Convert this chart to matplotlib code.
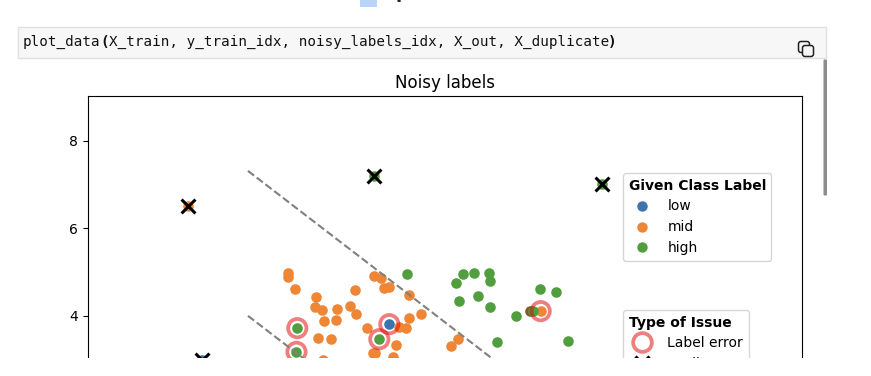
import matplotlib
matplotlib.use("Agg")
import matplotlib.pyplot as plt
from matplotlib.lines import Line2D
from matplotlib.patches import FancyBboxPatch, Rectangle

# values
mid_x = [2.805, 2.805, 2.903, 3.189, 3.175, 3.282, 3.492, 3.310, 3.469, 3.744, 3.674, 3.758,
         3.912, 3.217, 3.408, 4.006, 4.099, 4.150, 4.220, 4.500, 4.668, 4.500, 4.360, 4.458,
         4.318, 3.987, 4.024, 4.276, 3.296, 5.178, 5.088, 6.340, 1.40]
mid_y = [4.976, 4.898, 4.610, 4.427, 4.199, 4.130, 4.153, 3.879, 3.902, 4.587, 4.222, 4.039,
         3.719, 3.490, 3.467, 4.907, 4.862, 4.633, 4.656, 4.473, 4.039, 3.947, 3.755, 3.719,
         3.330, 3.147, 3.161, 3.063, 2.994, 3.467, 3.307, 4.107, 6.50]
high_x = [4.472, 5.256, 5.410, 5.620, 5.634, 5.158, 5.200, 5.466, 5.634, 5.999, 6.335, 6.559,
          6.237, 5.733, 6.727, 6.541, 2.931, 2.920, 4.080, 4.00, 7.20]
high_y = [4.953, 4.953, 4.976, 4.976, 4.793, 4.747, 4.336, 4.450, 4.199, 3.993, 4.610, 4.542,
          4.107, 3.399, 3.421, 2.93, 3.719, 3.177, 3.467, 7.20, 7.00]
low_x = [4.220, 1.60]
low_y = [3.810, 2.99]
overlap_x = [6.19]
overlap_y = [4.11]

error_x = [2.931, 2.920, 4.220, 4.080, 6.340]
error_y = [3.719, 3.177, 3.810, 3.467, 4.107]
outlier_x = [1.40, 4.00, 7.20, 1.60]
outlier_y = [6.50, 7.20, 7.00, 2.99]

boundary_x = [[2.24, 6.0], [2.24, 4.0]]
boundary_y = [[7.31, 2.60], [4.00, 1.80]]

class_names = ["low", "mid", "high"]
class_colors = ["#3a75af", "#ef8636", "#519e3e"]
y_ticks = [2, 4, 6, 8]

W, H = 871, 376
RING = "#e1010180"
MONO = "DejaVu Sans Mono"


def fx(px):
    return px / W


def fy(py):
    return 1 - py / H


fig = plt.figure(figsize=(W / 100, H / 100), dpi=100)

# the plot runs on below the cut of the screenshot
ax = fig.add_axes([fx(88), fy(491), (802 - 88) / W, (491 - 96) / H])
ax.set_xlim(0, 10)
ax.set_ylim(0, 9.02)
ax.set_xticks([])
ax.set_yticks(y_ticks)
ax.set_title("Noisy labels", fontsize=12, pad=6)

for bx, by in zip(boundary_x, boundary_y):
    ax.plot(bx, by, color="gray", ls="--", lw=1.5, zorder=4)

ax.scatter(low_x, low_y, s=58, color=class_colors[0], linewidths=0, zorder=2)
ax.scatter(mid_x, mid_y, s=58, color=class_colors[1], linewidths=0, zorder=2)
ax.scatter(overlap_x, overlap_y, s=58, color="#7d5a2c", linewidths=0, zorder=2)
ax.scatter(high_x, high_y, s=58, color=class_colors[2], linewidths=0, zorder=2)
ax.scatter(error_x, error_y, s=175, facecolors="none", edgecolors=RING, linewidths=2.7, zorder=3)
ax.scatter(outlier_x, outlier_y, s=100, marker="x", color="black", linewidths=2.2, zorder=5)

handles = [Line2D([], [], ls="", marker="o", ms=7.5, mew=0, color=c) for c in class_colors]
first = ax.legend(handles, class_names, title="Given Class Label", loc="upper left",
                  bbox_to_anchor=(fx(616), fy(166)), bbox_transform=fig.transFigure,
                  title_fontproperties={"weight": "bold", "size": 10}, fontsize=10,
                  labelspacing=0.5)
first._legend_box.align = "left"
ax.add_artist(first)

issue_handles = [
    Line2D([], [], ls="", marker="o", ms=13.5, mfc="none", mec=RING, mew=2.7),
    Line2D([], [], ls="", marker="x", ms=10, color="black", mew=2.2),
]
second = ax.legend(issue_handles, ["Label error", "Outlier"], title="Type of Issue", loc="upper left",
                   bbox_to_anchor=(fx(616), fy(303)), bbox_transform=fig.transFigure,
                   title_fontproperties={"weight": "bold", "size": 10}, fontsize=10,
                   labelspacing=0.48)
second._legend_box.align = "left"

# notebook page around the plot, in screenshot pixels
page = fig.add_axes([0, 0, 1, 1], zorder=10)
page.set_xlim(0, W)
page.set_ylim(H, 0)
page.axis("off")
page.patch.set_alpha(0)

page.add_patch(Rectangle((0, 358), W, 18, color="white", lw=0))
page.add_patch(Rectangle((17.5, 26.5), 808.5, 31.5, fc="#f7f7f7", ec="#e0e0e0", lw=1))
page.add_patch(Rectangle((360, -1), 17, 8, color="#b8d4fa", lw=0))

# one piece per font weight, 8.6 px to a character
code_parts = ["plot_data", "(", "X_train, y_train_idx, noisy_labels_idx, X_out, X_duplicate", ")"]
cx = 23
for part in code_parts:
    weight = "bold" if part in "()" else "normal"
    page.text(cx, 42, part, family=MONO, fontsize=10.3, va="center", weight=weight, color="#111111")
    cx += len(part) * 8.6

# bottoms of the heading letters above the cut
for hx, ch in zip([313, 402, 446], ["(", "p", ")"]):
    page.text(hx, 2, ch, fontsize=13, weight="bold", ha="center", va="bottom", color="#222222")

for ix, iy in [(798.5, 41.5), (802.5, 45.5)]:
    page.add_patch(FancyBboxPatch((ix + 2, iy + 2), 7, 7, boxstyle="round,pad=2,rounding_size=2.5",
                                  fc="#f7f7f7", ec="#222222", lw=1.1))
page.add_patch(FancyBboxPatch((824, 60), 2.5, 135, boxstyle="round,pad=0.5,rounding_size=1",
                              fc="#8c8c8c", ec="none"))

fig.savefig("out.png", dpi=100)
